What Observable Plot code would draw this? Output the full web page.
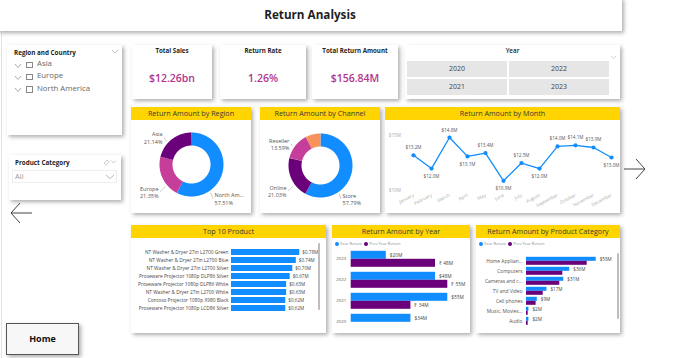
<!DOCTYPE html>
<html><head><meta charset="utf-8">
<script src="https://cdn.jsdelivr.net/npm/d3@7"></script>
<script src="https://cdn.jsdelivr.net/npm/@observablehq/plot@0.6"></script>
<style>
body{margin:0;background:#fff;font-family:"Segoe UI","Open Sans",sans-serif;}
#dash{position:relative;width:680px;height:358px;overflow:hidden;background:#fff;}
.box{position:absolute;background:#fff;box-shadow:2px 2px 4px rgba(0,0,0,0.32);}
.hdr{position:absolute;left:0;top:0;right:0;height:13px;background:#FFD400;color:#3a3a3a;font-size:7.2px;text-align:center;line-height:13px;}
.body{position:absolute;left:0;top:13px;}
.kt{position:absolute;left:0;right:0;top:1px;text-align:center;font-weight:700;font-size:6.2px;color:#252423;}
.kv{position:absolute;left:0;right:0;top:25.5px;text-align:center;font-weight:600;font-size:10.5px;color:#B4338E;}
.yb{position:absolute;width:100px;height:16px;background:#E6E6E6;color:#444;font-size:7px;text-align:center;line-height:16px;}
.legend{position:absolute;left:3px;top:16px;font-size:4px;color:#888;white-space:nowrap;}
.legend span.d{display:inline-block;width:4px;height:4px;border-radius:50%;vertical-align:-0.5px;margin-right:1px;}
.scroll{position:absolute;width:2px;background:#bdbdbd;border-radius:1px;}
svg text{font-family:"Segoe UI","Open Sans",sans-serif;}
</style>
</head><body><div id="dash"></div>
<script>
// ---------- DATA ----------
const pageTitle = "Return Analysis";
const kpiTitles = ["Total Sales", "Return Rate", "Total Return Amount"];
const kpiValues = ["$12.26bn", "1.26%", "$156.84M"];
const regionItems = ["Asia", "Europe", "North America"];
const yearItems = ["2020", "2022", "2021", "2023"];

const regions = ["North America", "Europe", "Asia"];
const regionShort = ["North Am...", "Europe", "Asia"];
const regionPct = [57.51, 21.35, 21.14];

const channels = ["Store", "Online", "Reseller", "Catalog"];
const channelPct = [57.79, 21.03, 13.59, 7.59];
const channelShown = [true, true, true, false];

const months = ["January","February","March","April","May","June","July","August","September","October","November","December"];
const monthReturn = [13.2, 12.0, 14.8, 13.1, 13.4, 10.9, 12.5, 12.0, 14.0, 14.1, 13.9, 13.0];
const monthTicks = [10, 15];

const products = [
  "NT Washer & Dryer 27in L2700 Green",
  "NT Washer & Dryer 27in L2700 Blue",
  "NT Washer & Dryer 27in L2700 Silver",
  "Proseware Projector 1080p DLP86 Silver",
  "Proseware Projector 1080p DLP86 White",
  "NT Washer & Dryer 27in L2700 White",
  "Contoso Projector 1080p X980 Black",
  "Proseware Projector 1080p LCD86 Silver"
];
const productReturn = [0.78, 0.74, 0.70, 0.67, 0.63, 0.63, 0.62, 0.62];

const series = ["Year Return", "Prev Year Return"];
const years = ["2023", "2022", "2021", "2020"];
const yearReturn = [20, 48, 55, 34];
const prevYearReturn = [48, 55, 34, null];

const categories = ["Home Applian...", "Computers", "Cameras and c...", "TV and Video", "Cell phones", "Music, Movies...", "Audio"];
const catReturn = [58, 36, 31, 17, 9, 2, 2];
const catPrevReturn = [50.5, 30.2, 27.7, 13.9, 8.0, 1.4, 1.4];

// ---------- STYLE ----------
const BLUE = "#118DFF", PURPLE = "#6B007B", PINK = "#C53E9A", ORANGE = "#F6925A";
const FONT = '"Segoe UI","Open Sans",sans-serif';
const dash = document.getElementById("dash");

function box(x, y, w, h, cls = "box") {
  const d = document.createElement("div");
  d.className = cls;
  Object.assign(d.style, {left: x + "px", top: y + "px", width: w + "px", height: h + "px"});
  dash.appendChild(d);
  return d;
}
function el(parent, tag, cls, text, style = {}) {
  const d = document.createElement(tag);
  if (cls) d.className = cls;
  if (text != null) d.textContent = text;
  Object.assign(d.style, style);
  parent.appendChild(d);
  return d;
}
function panel(x, y, w, h, title) {
  const p = box(x, y, w, h);
  el(p, "div", "hdr", title);
  return p;
}
function svgIcon(parent, w, h, x, y, inner) {
  const s = document.createElementNS("http://www.w3.org/2000/svg", "svg");
  s.setAttribute("width", w); s.setAttribute("height", h);
  s.style.position = "absolute"; s.style.left = x + "px"; s.style.top = y + "px";
  s.innerHTML = inner;
  parent.appendChild(s);
  return s;
}

// left page edge
el(dash, "div", null, null, {position:"absolute", left:"1px", top:"0", width:"1px", height:"358px", background:"#e2e2e2"});

// Title
const t = box(-2, -2, 624, 33);
el(t, "div", null, pageTitle, {position:"absolute", left:"0", right:"0", top:"8px", textAlign:"center", fontWeight:"700", fontSize:"11.7px", color:"#1f1f1f"});

// Region slicer
const rs = box(7, 45, 115, 90);
el(rs, "div", null, "Region and Country", {position:"absolute", left:"7px", top:"3px", fontWeight:"700", fontSize:"6.3px", color:"#252423"});
svgIcon(rs, 8, 6, 104, 4, '<polyline points="1,1 4,4 7,1" fill="none" stroke="#aaa" stroke-width="0.7"/>');
regionItems.forEach((r, i) => {
  const yy = 16 + i * 12.4;
  svgIcon(rs, 8, 6, 7, yy + 1.5, '<polyline points="1,1 4,4.5 7,1" fill="none" stroke="#888" stroke-width="0.7"/>');
  el(rs, "div", null, null, {position:"absolute", left:"19px", top:(yy + 0.5) + "px", width:"6.5px", height:"6.5px", border:"0.7px solid #888", boxSizing:"border-box"});
  el(rs, "div", null, r, {position:"absolute", left:"30px", top:(yy - 3) + "px", fontSize:"7.8px", color:"#666"});
});

// KPI cards
const kpiPos = [[132, 80], [220, 86], [312, 86]];
kpiTitles.forEach((k, i) => {
  const c = box(kpiPos[i][0], 45, kpiPos[i][1], 54);
  el(c, "div", "kt", k);
  el(c, "div", "kv", kpiValues[i]);
});

// Year slicer
const ys = box(405, 45, 215, 54);
el(ys, "div", null, "Year", {position:"absolute", left:"0", right:"0", top:"1px", textAlign:"center", fontWeight:"600", fontSize:"6.3px", color:"#252423"});
svgIcon(ys, 8, 6, 205, 10, '<polyline points="1,1 3.5,3.5 6,1" fill="none" stroke="#bbb" stroke-width="0.6"/>');
yearItems.forEach((yv, i) => {
  const b = el(ys, "div", "yb", yv);
  b.style.left = (2 + (i % 2) * 102) + "px";
  b.style.top = (16 + Math.floor(i / 2) * 18) + "px";
});

// Product category slicer
const ps = box(9, 155, 112, 45);
el(ps, "div", null, "Product Category", {position:"absolute", left:"6px", top:"3px", fontWeight:"700", fontSize:"6.3px", color:"#252423"});
svgIcon(ps, 16, 8, 93, 3, '<path d="M2,5 L5,2 L7,4 L4,7 Z" fill="none" stroke="#aaa" stroke-width="0.6"/><polyline points="9,2.5 11.5,5 14,2.5" fill="none" stroke="#aaa" stroke-width="0.6"/>');
el(ps, "div", null, null, {position:"absolute", left:"3px", top:"15px", width:"105px", height:"13px", border:"0.6px solid #eee", boxSizing:"border-box"});
el(ps, "div", null, "All", {position:"absolute", left:"6px", top:"16px", fontSize:"7.5px", color:"#999"});
svgIcon(ps, 10, 6, 96, 19, '<polyline points="1,1 5,4.5 9,1" fill="none" stroke="#999" stroke-width="0.7"/>');

// Arrows
svgIcon(dash, 24, 24, 9, 201, '<polyline points="11,2 2,12 11,22" fill="none" stroke="#444" stroke-width="1"/><line x1="2" y1="12" x2="23" y2="12" stroke="#444" stroke-width="1"/>');
svgIcon(dash, 24, 24, 623, 157, '<polyline points="13,2 22,12 13,22" fill="none" stroke="#444" stroke-width="1"/><line x1="1" y1="12" x2="22" y2="12" stroke="#444" stroke-width="1"/>');

// Home button
const hb = box(6, 323, 73, 32);
Object.assign(hb.style, {border:"1px solid #555", boxSizing:"border-box", background:"#f7f7f7"});
el(hb, "div", null, "Home", {position:"absolute", left:"0", right:"0", top:"8px", textAlign:"center", fontWeight:"700", fontSize:"9px", color:"#111"});

// ---------- DONUTS ----------
const RM = 25.5, RW = 13;
function donut(parentPanel, names, pcts, colors, labelNames, showLabel, centerY, nudges) {
  const total = d3.sum(pcts);
  const pts = [], labels = [];
  let acc = 0;
  names.forEach((n, i) => {
    const a0 = acc / total * 2 * Math.PI; acc += pcts[i];
    const a1 = acc / total * 2 * Math.PI;
    const steps = Math.max(2, Math.ceil((a1 - a0) / (Math.PI / 180)));
    for (let k = 0; k <= steps; k++) {
      const a = a0 + (a1 - a0) * k / steps;
      pts.push({name: n, x: Math.sin(a) * RM, y: Math.cos(a) * RM});
    }
    if (showLabel[i]) {
      const am = (a0 + a1) / 2;
      const nd = nudges[i];
      const lx = Math.sin(am) * 40 + nd[0], ly = Math.cos(am) * 40 + nd[1];
      const side = lx < 0 ? -1 : 1;
      const len = Math.hypot(lx, ly);
      labels.push({name: n, side, x: lx, y: ly,
        text: labelNames[i] + "\n" + pcts[i].toFixed(2) + "%",
        x1: lx - side * 1.5, y1: ly, x2: lx / len * 34, y2: ly / len * 34});
    }
  });
  const H = 93;
  const plot = Plot.plot({
    width: 120, height: H, margin: 0,
    x: {domain: [-60, 60], axis: null},
    y: {domain: [-(H - centerY), centerY], axis: null},
    color: {domain: names, range: colors},
    style: {background: "transparent", fontFamily: FONT, overflow: "visible"},
    marks: [
      Plot.line(pts, {x: "x", y: "y", z: "name", stroke: "name", strokeWidth: RW, strokeLinecap: "butt", strokeLinejoin: "round", curve: "linear"}),
      Plot.link(labels, {x1: "x1", y1: "y1", x2: "x2", y2: "y2", stroke: "#aaa", strokeWidth: 0.6}),
      Plot.text(labels.filter(d => d.side < 0), {x: "x", y: "y", text: "text", textAnchor: "end", fontSize: 5.5, lineHeight: 1.35, fill: "#555"}),
      Plot.text(labels.filter(d => d.side > 0), {x: "x", y: "y", text: "text", textAnchor: "start", fontSize: 5.5, lineHeight: 1.35, fill: "#555"})
    ]
  });
  const b = el(parentPanel, "div", "body");
  b.appendChild(plot);
}
const pRegion = panel(131, 107, 120, 106, "Return Amount by Region");
donut(pRegion, regions, regionPct, [BLUE, PINK, PURPLE], regionShort, [true, true, true], 44,
  [[-15.9, -24.7], [3.4, -10.9], [-4.4, -4.5]]);
const pChannel = panel(260, 107, 120, 106, "Return Amount by Channel");
donut(pChannel, channels, channelPct, [BLUE, PURPLE, PINK, ORANGE], channels, channelShown, 45,
  [[-16.8, -23.8], [2.5, -9.2], [0.3, -3.1], [0, 0]]);

// ---------- MONTH LINE ----------
const pMonth = panel(385, 107, 235, 106, "Return Amount by Month");
const monthData = months.map((m, i) => {
  const v = monthReturn[i], pv = monthReturn[i - 1], nv = monthReturn[i + 1];
  const below = (pv == null || v < pv) && (nv == null || v < nv);
  return {month: m, value: v, below, label: "$" + v.toFixed(1) + "M"};
});
const monthPlot = Plot.plot({
  width: 235, height: 93,
  marginLeft: 27.3, marginRight: 9, marginTop: 14.8, marginBottom: 22.7,
  x: {type: "point", domain: months, padding: 0, tickRotate: -28, tickSize: 0, tickPadding: 4, label: null},
  y: {domain: [10, 15], ticks: monthTicks, tickFormat: d => "$" + d + "M", tickSize: 0, tickPadding: 12, label: null},
  style: {background: "transparent", fontFamily: FONT, fontSize: "4.6px", color: "#aaa", overflow: "visible"},
  marks: [
    Plot.line(monthData, {x: "month", y: "value", stroke: BLUE, strokeWidth: 1.3}),
    Plot.dot(monthData, {x: "month", y: "value", fill: BLUE, r: 2.1}),
    Plot.text(monthData.filter(d => !d.below), {x: "month", y: "value", text: "label", dy: -7.5, fontSize: 4.6, fill: "#555"}),
    Plot.text(monthData.filter(d => d.below), {x: "month", y: "value", text: "label", dy: 8, fontSize: 4.6, fill: "#555"})
  ]
});
el(pMonth, "div", "body").appendChild(monthPlot);

// ---------- TOP 10 PRODUCT ----------
const pTop = panel(131, 225, 195, 108, "Top 10 Product");
const prodData = products.map((p, i) => ({product: p, value: productReturn[i], label: "$" + productReturn[i].toFixed(2) + "M"}));
const topPlot = Plot.plot({
  width: 195, height: 95,
  marginLeft: 100, marginRight: 26.7, marginTop: 7.7, marginBottom: 18.7,
  x: {domain: [0, d3.max(productReturn)], axis: null},
  y: {domain: products, padding: 0.22, tickSize: 0, tickPadding: 3, label: null},
  style: {background: "transparent", fontFamily: FONT, fontSize: "4.8px", color: "#444", overflow: "visible"},
  marks: [
    Plot.barX(prodData, {x: "value", y: "product", fill: BLUE}),
    Plot.text(prodData, {x: "value", y: "product", text: "label", dx: 2.5, textAnchor: "start", fontSize: 4.6, fill: "#444"})
  ]
});
el(pTop, "div", "body").appendChild(topPlot);
const s1 = el(pTop, "div", "scroll"); Object.assign(s1.style, {left: "187px", top: "18px", height: "67px"});

// ---------- YEAR ----------
function legendHTML(parent) {
  const lg = el(parent, "div", "legend");
  lg.innerHTML = '<span class="d" style="background:' + BLUE + '"></span>' + series[0] +
    ' &nbsp;<span class="d" style="background:' + PURPLE + '"></span>' + series[1];
}
const pYear = panel(332, 225, 138, 108, "Return Amount by Year");
legendHTML(pYear);
const yearData = [];
years.forEach((y, i) => {
  yearData.push({year: y, series: series[0], value: yearReturn[i], label: "$" + yearReturn[i] + "M"});
  if (prevYearReturn[i] != null) yearData.push({year: y, series: series[1], value: prevYearReturn[i], label: "₹ " + prevYearReturn[i] + "M"});
});
const yearPlot = Plot.plot({
  width: 138, height: 95,
  marginLeft: 18.7, marginRight: 10, marginTop: 12.2, marginBottom: 2.5,
  fy: {domain: years, padding: 0.2, axis: "left", tickSize: 0, tickPadding: 5, label: null},
  y: {domain: series, paddingInner: 0.06, paddingOuter: 0, axis: null},
  x: {domain: [0, 55], range: [18.7, 115.3], axis: null},
  color: {domain: series, range: [BLUE, PURPLE]},
  style: {background: "transparent", fontFamily: FONT, fontSize: "4.3px", color: "#555", overflow: "visible"},
  marks: [
    Plot.barX(yearData, {fy: "year", y: "series", x: "value", fill: "series"}),
    Plot.text(yearData, {fy: "year", y: "series", x: "value", text: "label", dx: 3.5, textAnchor: "start", fontSize: 4.8, fill: "#444"})
  ]
});
el(pYear, "div", "body").appendChild(yearPlot);

// ---------- PRODUCT CATEGORY ----------
const pCat = panel(476, 225, 144, 108, "Return Amount by Product Category");
legendHTML(pCat);
const catData = [];
categories.forEach((c, i) => {
  catData.push({cat: c, series: series[0], value: catReturn[i], label: "$" + catReturn[i] + "M"});
  catData.push({cat: c, series: series[1], value: catPrevReturn[i], label: ""});
});
const catPlot = Plot.plot({
  width: 144, height: 95,
  marginLeft: 50, marginRight: 24.3, marginTop: 17.2, marginBottom: 6.2,
  fy: {domain: categories, padding: 0.2, axis: "left", tickSize: 0, tickPadding: 4, label: null},
  y: {domain: series, paddingInner: 0, paddingOuter: 0, axis: null},
  x: {domain: [0, d3.max(catReturn)], axis: null},
  color: {domain: series, range: [BLUE, PURPLE]},
  style: {background: "transparent", fontFamily: FONT, fontSize: "4.9px", color: "#555", overflow: "visible"},
  marks: [
    Plot.barX(catData, {fy: "cat", y: "series", x: "value", fill: "series"}),
    Plot.text(catData.filter(d => d.series === series[0]), {fy: "cat", y: "series", x: "value", text: "label", dx: 3.5, textAnchor: "start", fontSize: 4.6, fill: "#444"})
  ]
});
el(pCat, "div", "body").appendChild(catPlot);
const s2 = el(pCat, "div", "scroll"); Object.assign(s2.style, {left: "141px", top: "28px", height: "66px"});
</script>
</body></html>
